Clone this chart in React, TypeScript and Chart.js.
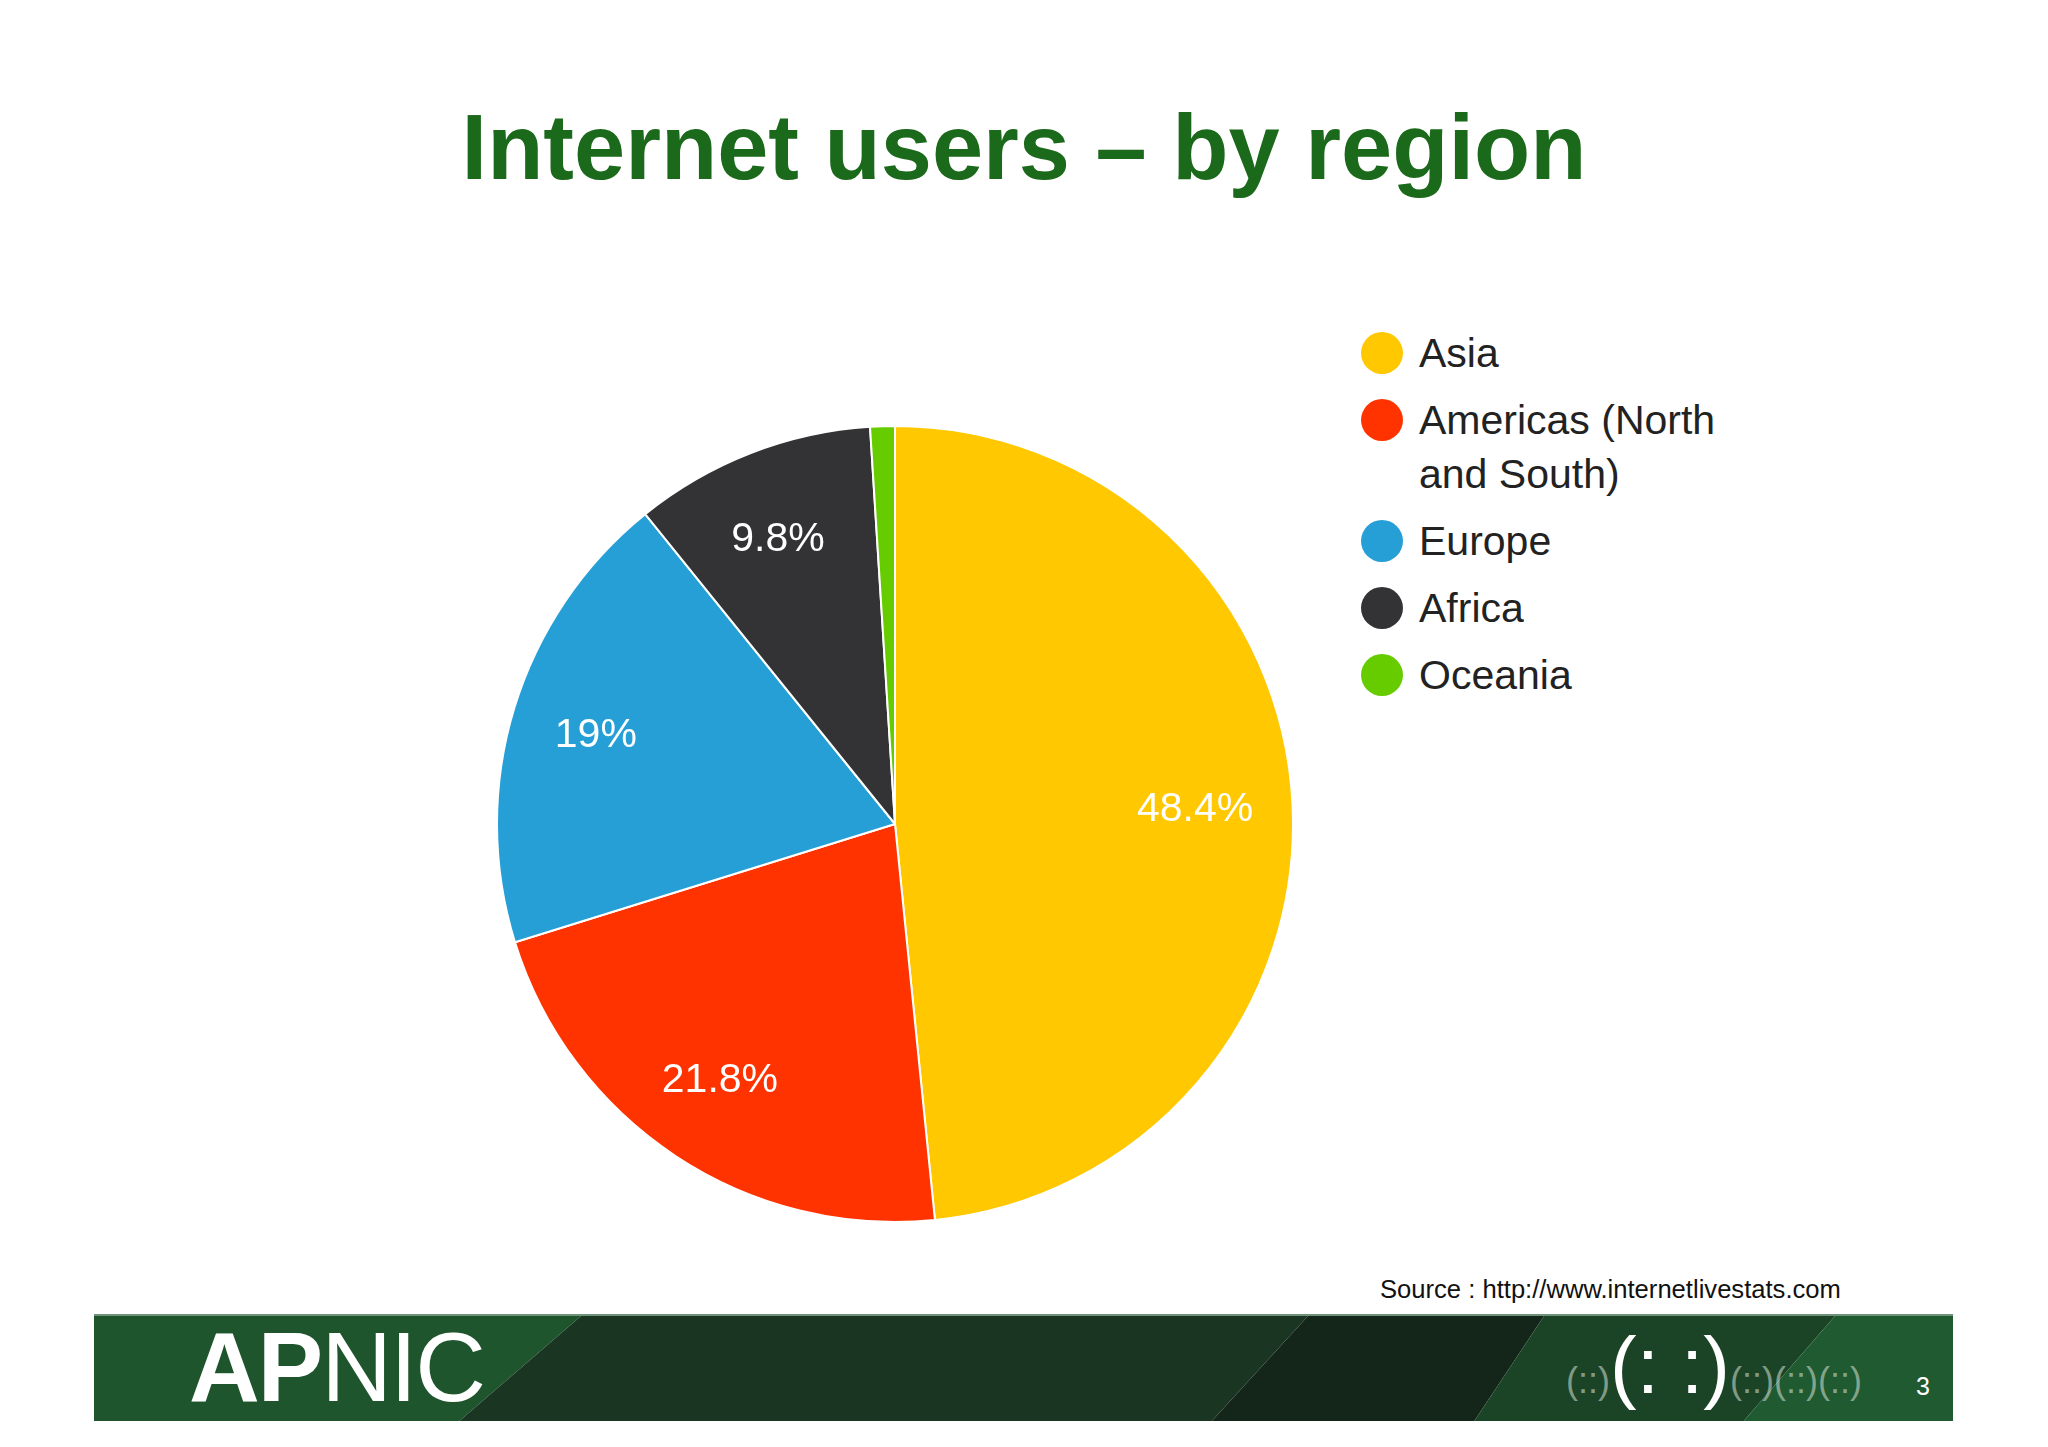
import React, { useEffect, useRef } from "react";
import { Chart, registerables } from "chart.js";

Chart.register(...registerables);

const regions = ["Asia", "Americas (North and South)", "Europe", "Africa", "Oceania"];
const shares = [48.4, 21.8, 19, 9.8, 1.0];
const sliceColors = ["#FFC800", "#FF3300", "#269FD6", "#333336", "#66CC00"];
const titleText = "Internet users \u2013 by region";
const sourceText = "Source : http://www.internetlivestats.com";
const pageNumber = "3";

const FONT = '"Liberation Sans", Arial, Helvetica, sans-serif';

const pctLabels = {
  id: "pctLabels",
  afterDatasetsDraw(chart: any) {
    const { ctx } = chart;
    const meta = chart.getDatasetMeta(0);
    meta.data.forEach((arc: any, i: number) => {
      const v = shares[i];
      if (v < 3) return;
      const p = arc.getProps(["startAngle", "endAngle", "outerRadius", "x", "y"], true);
      const mid = (p.startAngle + p.endAngle) / 2;
      const r = p.outerRadius * 0.77;
      ctx.save();
      ctx.fillStyle = "#ffffff";
      ctx.font = `41px ${FONT}`;
      ctx.textAlign = "center";
      ctx.textBaseline = "middle";
      ctx.fillText(`${v}%`, p.x + Math.cos(mid) * r - 6, p.y + Math.sin(mid) * r + 1);
      ctx.restore();
    });
  },
};

function PieChart() {
  const ref = useRef<HTMLCanvasElement | null>(null);
  useEffect(() => {
    if (!ref.current) return;
    const chart = new Chart(ref.current, {
      type: "pie",
      data: {
        labels: regions,
        datasets: [
          {
            data: shares,
            backgroundColor: sliceColors,
            borderColor: "#ffffff",
            borderWidth: 2,
            hoverOffset: 0,
          },
        ],
      },
      options: {
        animation: false,
        responsive: false,
        maintainAspectRatio: false,
        layout: { padding: 0 },
        plugins: {
          legend: { display: false },
          tooltip: { enabled: false },
          title: { display: false },
        },
      },
      plugins: [pctLabels],
    });
    return () => chart.destroy();
  }, []);
  return (
    <canvas
      ref={ref}
      width={798}
      height={798}
      style={{ position: "absolute", left: 496, top: 425, width: 798, height: 798 }}
    />
  );
}

function Legend() {
  return (
    <div style={{ position: "absolute", left: 1361, top: 326, fontFamily: FONT, fontSize: 41, color: "#222" }}>
      {regions.map((r, i) => (
        <div key={r} style={{ position: "relative", paddingLeft: 58, width: 330, lineHeight: "54px", marginBottom: 13 }}>
          <span
            style={{
              position: "absolute",
              left: 0,
              top: 6,
              width: 42,
              height: 42,
              borderRadius: "50%",
              background: sliceColors[i],
            }}
          />
          {r}
        </div>
      ))}
    </div>
  );
}

function Banner() {
  const W = 1859;
  const H = 107;
  const poly = (a: number, b: number, c: number, d: number) =>
    `polygon(${a}px 0px, ${b}px 0px, ${c}px ${H}px, ${d}px ${H}px)`;
  const layers = [
    { color: "#1e552d", clip: poly(0, 487, 363, 0) },
    { color: "#1a3521", clip: poly(487, 1214, 1116, 363) },
    { color: "#14251a", clip: poly(1214, 1450, 1379, 1116) },
    { color: "#1b4427", clip: poly(1450, 1741, 1648, 1379) },
    { color: "#1f5a31", clip: poly(1741, W, W, 1648) },
  ];
  return (
    <div style={{ position: "absolute", left: 94, top: 1314, width: W, height: H, overflow: "hidden", borderTop: "2px solid #6f9378", boxSizing: "border-box" }}>
      {layers.map((l, i) => (
        <div key={i} style={{ position: "absolute", left: 0, top: 0, width: W, height: H, background: l.color, clipPath: l.clip }} />
      ))}
      <div style={{ position: "absolute", left: 95, top: -2, lineHeight: `${H}px`, fontFamily: FONT, fontSize: 98, color: "#ffffff", whiteSpace: "nowrap", letterSpacing: -2 }}>
        <span style={{ fontWeight: "bold" }}>AP</span>
        <span style={{ fontWeight: "normal" }}>NIC</span>
      </div>
      <div style={{ position: "absolute", left: 1472, top: -4, lineHeight: `${H}px`, fontFamily: FONT, whiteSpace: "nowrap", color: "rgba(220,230,220,0.55)", fontSize: 36 }}>
        <span>(::)</span>
        <span style={{ color: "#ffffff", fontSize: 80, fontWeight: "normal" }}>(: :)</span>
        <span>(::)(::)(::)</span>
      </div>
      <div style={{ position: "absolute", left: 1822, top: 56, fontFamily: FONT, fontSize: 25, lineHeight: "28px", color: "#ffffff" }}>{pageNumber}</div>
    </div>
  );
}

export default function App() {
  return (
    <div style={{ position: "absolute", left: 0, top: 0, width: 2048, height: 1447, background: "#ffffff", overflow: "hidden" }}>
      <div
        style={{
          position: "absolute",
          left: 0,
          top: 97,
          width: 2048,
          textAlign: "center",
          fontFamily: FONT,
          fontWeight: "bold",
          fontSize: 92,
          lineHeight: "100px",
          color: "#1b691b",
          whiteSpace: "nowrap",
        }}
      >
        {titleText}
      </div>
      <PieChart />
      <Legend />
      <div style={{ position: "absolute", left: 1380, top: 1274, fontFamily: FONT, fontSize: 25.6, lineHeight: "30px", color: "#111", whiteSpace: "nowrap" }}>
        {sourceText}
      </div>
      <Banner />
    </div>
  );
}
